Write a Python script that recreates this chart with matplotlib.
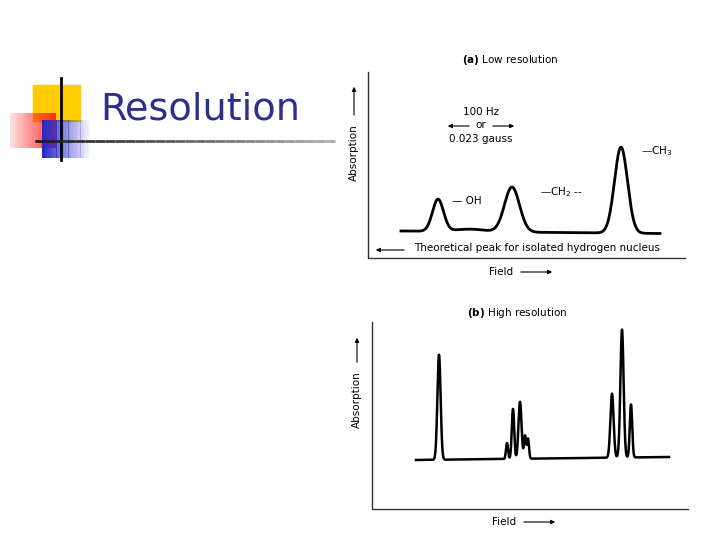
import numpy as np
import matplotlib.pyplot as plt
from matplotlib.patches import Rectangle

# Peak tables (pixel positions): centre, top, half-width
low_pos = [438, 512, 621]
low_top = [199, 186, 145]
low_wid = [5.5, 7.5, 6.5]
low_base = 231

high_pos = [439, 507, 513, 520, 525, 528, 612, 622, 631]
high_top = [355, 444, 410, 403, 437, 440, 396, 332, 407]
high_wid = [1.6, 1.0, 1.2, 1.5, 1.0, 1.0, 1.6, 1.6, 1.2]
high_base = 460

title = "Resolution"


def spectrum(x, pos, top, wid, base):
    y = np.zeros_like(x)
    for p, t, w in zip(pos, top, wid):
        y += (base - t) * np.exp(-0.5 * ((x - p) / w) ** 2)
    return base - y


fig = plt.figure(figsize=(7.2, 5.4), dpi=100)
ax = fig.add_axes([0, 0, 1, 1])
ax.set_xlim(0, 720)
ax.set_ylim(540, 0)
ax.axis("off")

# title decoration
ax.add_patch(Rectangle((33, 85), 47, 36, color="#ffcc00", zorder=1))
for i in range(20):
    ax.add_patch(Rectangle((10 + i * 2.3, 113), 2.4, 35, color="#ff2020",
                           alpha=0.15 + 0.04 * i, lw=0, zorder=2))
for i in range(20):
    ax.add_patch(Rectangle((42 + i * 2.4, 120), 2.5, 38, color="#2a2ac8",
                           alpha=max(0.05, 1 - 0.05 * i), lw=0, zorder=3))
ax.plot([61, 61], [78, 160], color="black", lw=2, zorder=4)
for i in range(30):
    ax.plot([35 + i * 10, 45 + i * 10], [141, 141], color=str(0.1 + 0.02 * i),
            lw=2, zorder=4, solid_capstyle="butt")
ax.text(100, 110, title, fontsize=27.5, color="#2e2e8c", va="center", ha="left")

arrow = dict(arrowstyle="-|>", color="black", lw=0.8, mutation_scale=6)

# panel (a)
ax.plot([368, 368, 685], [72, 258, 258], color="0.2", lw=1)
xa = np.linspace(401, 660, 800)
ya = spectrum(xa, low_pos, low_top, low_wid, low_base)
ya += -2.5 * np.exp(-0.5 * ((xa - 470) / 15) ** 2) + 2.5 * ((xa - 401) / 260)
ax.plot(xa, ya, color="black", lw=2)
ax.text(510, 60, r"$\bf{(a)}$ Low resolution", fontsize=7.5, ha="center", va="center")
ax.text(481, 112, "100 Hz", fontsize=7.5, ha="center", va="center")
ax.text(481, 125, "or", fontsize=7.5, ha="center", va="center")
ax.text(481, 139, "0.023 gauss", fontsize=7.5, ha="center", va="center")
ax.annotate("", xy=(445, 126), xytext=(472, 126), arrowprops=arrow)
ax.annotate("", xy=(517, 126), xytext=(490, 126), arrowprops=arrow)
ax.text(452, 201, "— OH", fontsize=7.5, ha="left", va="center")
ax.text(540, 192, "—CH$_2$ --", fontsize=7.5, ha="left", va="center")
ax.text(641, 151, "—CH$_3$", fontsize=7.5, ha="left", va="center")
ax.text(414, 248, "Theoretical peak for isolated hydrogen nucleus", fontsize=7.5,
        ha="left", va="center")
ax.annotate("", xy=(373, 250), xytext=(407, 250), arrowprops=arrow)
ax.text(354, 153, "Absorption", fontsize=7.5, rotation=90, ha="center", va="center")
ax.annotate("", xy=(354, 84), xytext=(354, 118), arrowprops=arrow)
ax.text(501, 272, "Field", fontsize=7.5, ha="center", va="center")
ax.annotate("", xy=(555, 272), xytext=(518, 272), arrowprops=arrow)

# panel (b)
ax.plot([372, 372, 688], [322, 509, 509], color="0.2", lw=1)
xb = np.linspace(416, 669, 3000)
yb = spectrum(xb, high_pos, high_top, high_wid, high_base)
yb += -3 * ((xb - 416) / 253)
ax.plot(xb, yb, color="black", lw=1.8)
ax.text(517, 313, r"$\bf{(b)}$ High resolution", fontsize=7.5, ha="center", va="center")
ax.text(357, 400, "Absorption", fontsize=7.5, rotation=90, ha="center", va="center")
ax.annotate("", xy=(357, 335), xytext=(357, 365), arrowprops=arrow)
ax.text(504, 522, "Field", fontsize=7.5, ha="center", va="center")
ax.annotate("", xy=(558, 522), xytext=(521, 522), arrowprops=arrow)

fig.savefig("out.png", dpi=100)
